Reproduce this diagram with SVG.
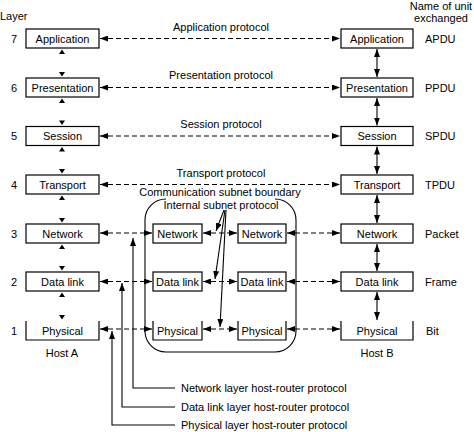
<svg xmlns="http://www.w3.org/2000/svg" width="474" height="432" viewBox="0 0 474 432">
<defs>
<marker id="ah" markerUnits="userSpaceOnUse" markerWidth="8" markerHeight="6" refX="8" refY="3" orient="auto-start-reverse"><path d="M0,0 L8,3 L0,6 z" fill="#000"/></marker>
<style>
text{font-family:"Liberation Sans",Arial,sans-serif;font-size:11px;fill:#000}
.m{text-anchor:middle}
.box{fill:#fff;stroke:#000;stroke-width:1.2}
.u{fill:none;stroke:#000;stroke-width:1.2}
.dash{stroke:#000;stroke-width:1.1;stroke-dasharray:5,3;fill:none;marker-start:url(#ah);marker-end:url(#ah)}
.sol{stroke:#000;stroke-width:1.1;fill:none}
.arr{stroke:#000;stroke-width:1.1;fill:none;marker-end:url(#ah)}
.dbl{stroke:#000;stroke-width:1.1;fill:none;marker-start:url(#ah);marker-end:url(#ah)}
.tri{fill:#000}
</style>
</defs>
<rect width="474" height="432" fill="#fff"/>

<g id="headers">
<text x="0" y="20">Layer</text>
<text x="441" y="10" class="m">Name of unit</text>
<text x="441" y="22" class="m">exchanged</text>
</g>

<g id="layer-numbers">
<text x="14" y="43" class="m">7</text>
<text x="14" y="92" class="m">6</text>
<text x="14" y="140" class="m">5</text>
<text x="14" y="189" class="m">4</text>
<text x="14" y="238" class="m">3</text>
<text x="14" y="286" class="m">2</text>
<text x="14" y="335" class="m">1</text>
</g>

<g id="units">
<text x="425" y="43">APDU</text>
<text x="425" y="92">PPDU</text>
<text x="425" y="140">SPDU</text>
<text x="425" y="189">TPDU</text>
<text x="425" y="238">Packet</text>
<text x="425" y="286">Frame</text>
<text x="426" y="335">Bit</text>
</g>

<g id="subnet-boundary">
<path class="sol" d="M166,199 A21,21 0 0 0 145,220 L145,331 A21,21 0 0 0 166,352 L275,352 A21,21 0 0 0 296,331 L296,220 A21,21 0 0 0 275,199"/>
<text x="220" y="196" class="m">Communication subnet boundary</text>
<text x="221" y="209" class="m">Internal subnet protocol</text>
</g>

<g id="hostA">
<g id="a-app"><rect class="box" x="26" y="29" width="73" height="19"/><text x="62.5" y="42.5" class="m">Application</text></g>
<g id="a-pres"><rect class="box" x="26" y="78" width="73" height="19"/><text x="62.5" y="91.5" class="m">Presentation</text></g>
<g id="a-sess"><rect class="box" x="26" y="126.5" width="73" height="19"/><text x="62.5" y="140" class="m">Session</text></g>
<g id="a-trans"><rect class="box" x="26" y="175" width="73" height="19"/><text x="62.5" y="188.5" class="m">Transport</text></g>
<g id="a-net"><rect class="box" x="26" y="224" width="73" height="19"/><text x="62.5" y="237.5" class="m">Network</text></g>
<g id="a-dl"><rect class="box" x="26" y="272" width="73" height="19"/><text x="62.5" y="285.5" class="m">Data link</text></g>
<g id="a-phys"><path class="u" d="M26,321 V340 H99 V321"/><text x="62.5" y="334.5" class="m">Physical</text></g>
<text x="62" y="357" class="m">Host A</text>
</g>

<g id="hostB">
<g id="b-app"><rect class="box" x="341" y="29" width="72" height="19"/><text x="377" y="42.5" class="m">Application</text></g>
<g id="b-pres"><rect class="box" x="341" y="78" width="72" height="19"/><text x="377" y="91.5" class="m">Presentation</text></g>
<g id="b-sess"><rect class="box" x="341" y="126.5" width="72" height="19"/><text x="377" y="140" class="m">Session</text></g>
<g id="b-trans"><rect class="box" x="341" y="175" width="72" height="19"/><text x="377" y="188.5" class="m">Transport</text></g>
<g id="b-net"><rect class="box" x="341" y="224" width="72" height="19"/><text x="377" y="237.5" class="m">Network</text></g>
<g id="b-dl"><rect class="box" x="341" y="272" width="72" height="19"/><text x="377" y="285.5" class="m">Data link</text></g>
<g id="b-phys"><path class="u" d="M341,321 V340 H413 V321"/><text x="377" y="334.5" class="m">Physical</text></g>
<text x="377" y="357" class="m">Host B</text>
</g>

<g id="router1">
<g id="r1-net"><rect class="box" x="153" y="224" width="49" height="19"/><text x="177.5" y="237.5" class="m">Network</text></g>
<g id="r1-dl"><rect class="box" x="153" y="272" width="49" height="19"/><text x="177.5" y="285.5" class="m">Data link</text></g>
<g id="r1-phys"><path class="u" d="M153,321 V340 H202 V321"/><text x="177.5" y="334.5" class="m">Physical</text></g>
</g>

<g id="router2">
<g id="r2-net"><rect class="box" x="238" y="224" width="48" height="19"/><text x="262" y="237.5" class="m">Network</text></g>
<g id="r2-dl"><rect class="box" x="238" y="272" width="48" height="19"/><text x="262" y="285.5" class="m">Data link</text></g>
<g id="r2-phys"><path class="u" d="M238,321 V340 H286 V321"/><text x="262" y="334.5" class="m">Physical</text></g>
</g>

<g id="protocol-labels">
<text x="221" y="31" class="m">Application protocol</text>
<text x="221" y="79" class="m">Presentation protocol</text>
<text x="221" y="128" class="m">Session protocol</text>
<text x="221" y="177" class="m">Transport protocol</text>
<text x="181" y="392">Network layer host-router protocol</text>
<text x="181" y="411">Data link layer host-router protocol</text>
<text x="181" y="429">Physical layer host-router protocol</text>
</g>

<g id="connectors">
<line class="dash" x1="100" y1="38.5" x2="340" y2="38.5"/>
<line class="dash" x1="100" y1="87.5" x2="340" y2="87.5"/>
<line class="dash" x1="100" y1="136" x2="340" y2="136"/>
<line class="dash" x1="100" y1="184.5" x2="340" y2="184.5"/>
<line class="dash" x1="100" y1="233" x2="152" y2="233"/>
<line class="dash" x1="203" y1="233" x2="237" y2="233"/>
<line class="dash" x1="287" y1="233" x2="340" y2="233"/>
<line class="dash" x1="100" y1="281.5" x2="152" y2="281.5"/>
<line class="dash" x1="203" y1="281.5" x2="237" y2="281.5"/>
<line class="dash" x1="287" y1="281.5" x2="340" y2="281.5"/>
<line class="dash" x1="100" y1="329" x2="152" y2="329"/>
<line class="dash" x1="203" y1="329" x2="237" y2="329"/>
<line class="dash" x1="287" y1="329" x2="340" y2="329"/>

<line class="dbl" x1="377" y1="49" x2="377" y2="77"/>
<line class="dbl" x1="377" y1="98" x2="377" y2="125.5"/>
<line class="dbl" x1="377" y1="146.5" x2="377" y2="174"/>
<line class="dbl" x1="377" y1="195" x2="377" y2="223"/>
<line class="dbl" x1="377" y1="244" x2="377" y2="271"/>
<line class="dbl" x1="377" y1="292" x2="377" y2="320"/>

<path class="tri" d="M59,54 L65,54 L62,49.5 z M59,72 L65,72 L62,76.5 z"/>
<path class="tri" d="M59,103 L65,103 L62,98.5 z M59,120.5 L65,120.5 L62,125 z"/>
<path class="tri" d="M59,151.5 L65,151.5 L62,147 z M59,169 L65,169 L62,173.5 z"/>
<path class="tri" d="M59,200 L65,200 L62,195.5 z M59,218 L65,218 L62,222.5 z"/>
<path class="tri" d="M59,249 L65,249 L62,244.5 z M59,266 L65,266 L62,270.5 z"/>
<path class="tri" d="M59,297 L65,297 L62,292.5 z M59,315 L65,315 L62,319.5 z"/>

<line class="arr" x1="224" y1="210" x2="216" y2="231"/>
<line class="arr" x1="225" y1="210" x2="215" y2="279"/>
<line class="arr" x1="226" y1="210" x2="220" y2="327"/>

<path class="arr" d="M175,388 H133 V238"/>
<path class="arr" d="M175,407 H122 V283"/>
<path class="arr" d="M175,425 H112 V331"/>
</g>
</svg>
